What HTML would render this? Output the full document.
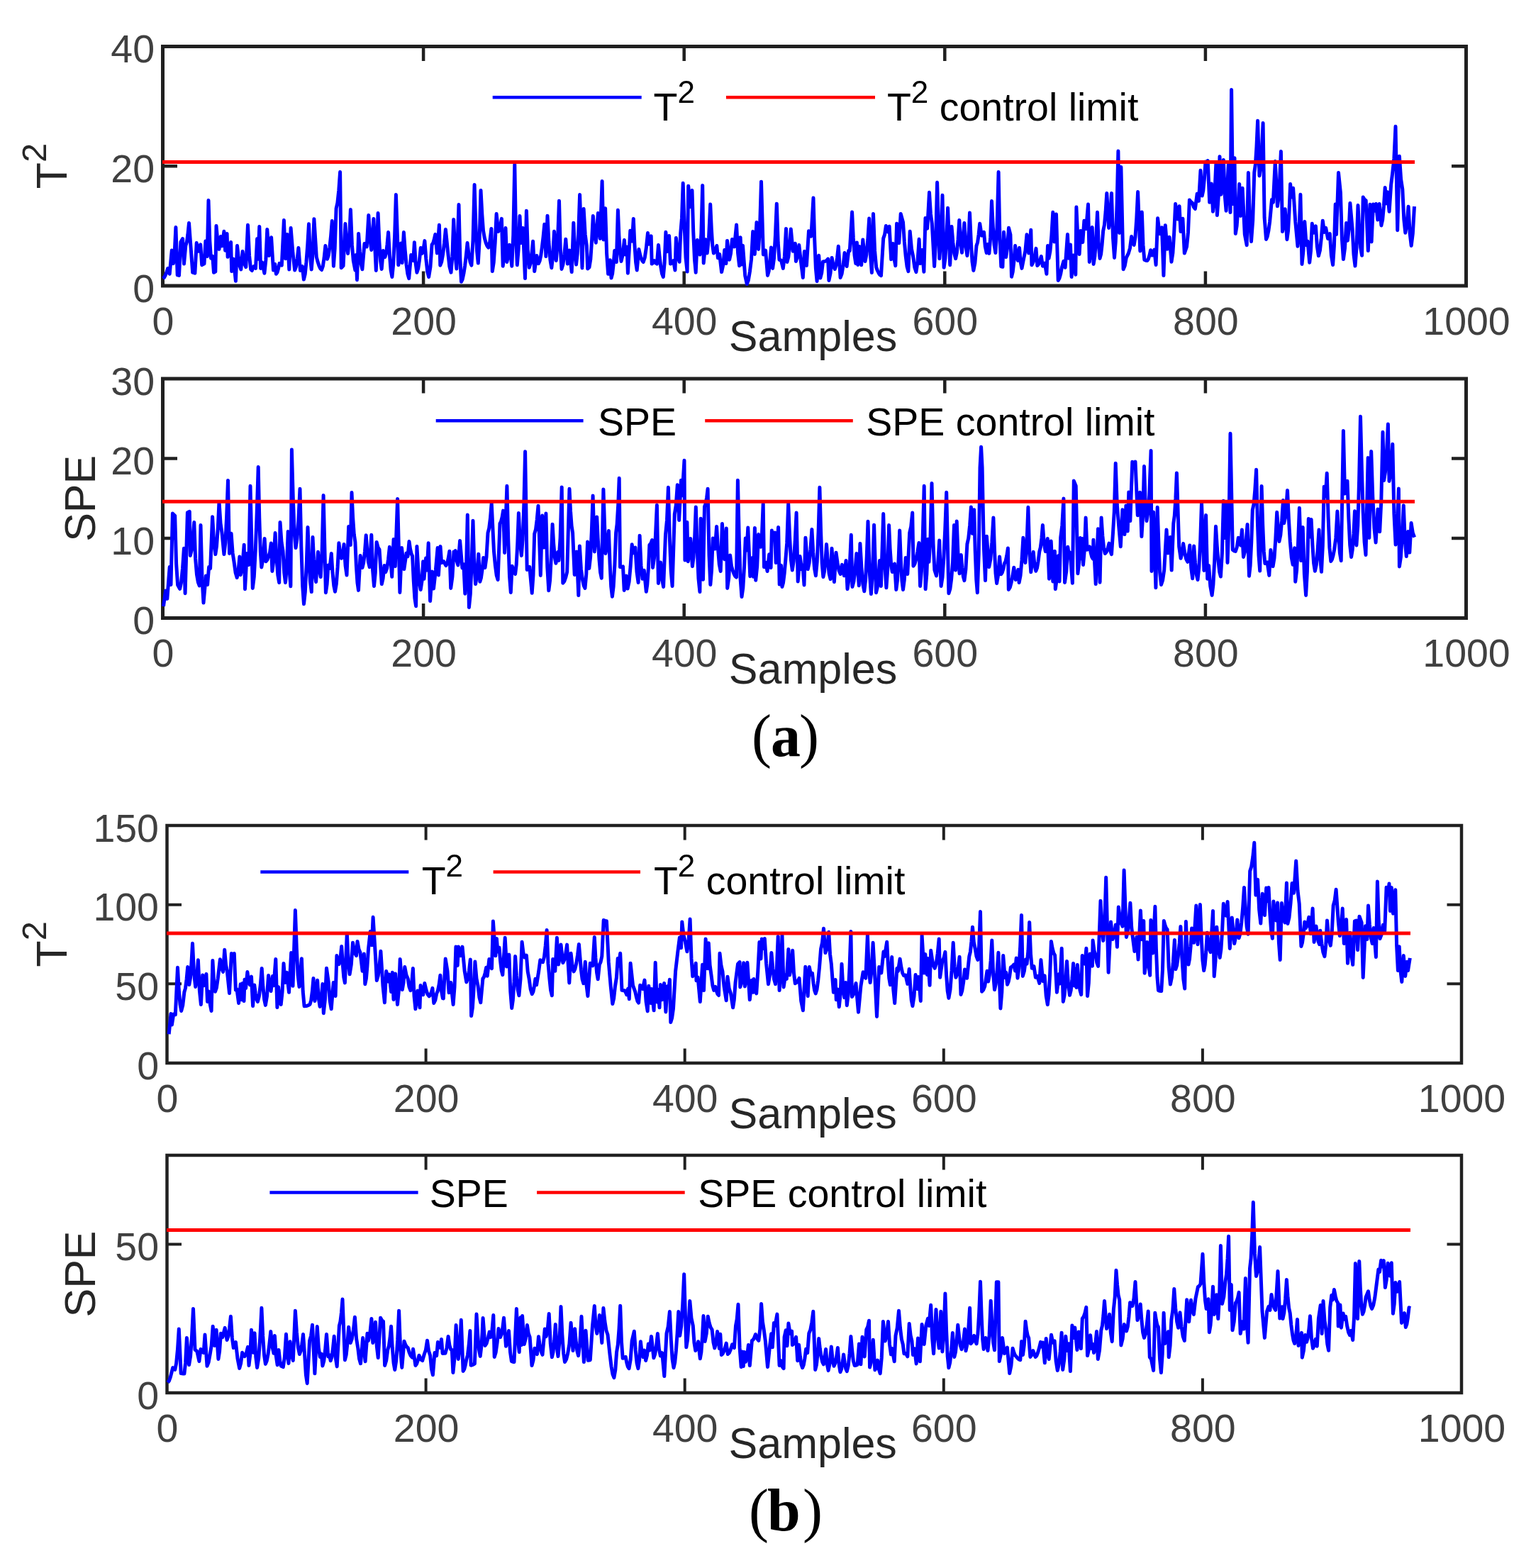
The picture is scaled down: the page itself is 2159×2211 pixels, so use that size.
<!DOCTYPE html>
<html lang="en">
<head>
<meta charset="utf-8">
<title>Monitoring charts</title>
<style>
html,body{margin:0;padding:0;background:#fff;}
body{width:2159px;height:2211px;overflow:hidden;}
svg{display:block;}
text{font-family:"Liberation Sans",Arial,Helvetica,sans-serif;}
.tk{font-size:55.5px;fill:#404040;}
.lb{font-size:61px;fill:#262626;}
.lg{font-size:55.5px;fill:#000;}
.cap{font-family:"Liberation Serif","DejaVu Serif",serif;fill:#000;}
</style>
</head>
<body>
<svg xmlns="http://www.w3.org/2000/svg" width="2159" height="2211" viewBox="0 0 2159 2211">
<rect width="2159" height="2211" fill="#fff"/>
<g id="a1">
<path d="M597.1 403V382.5M597.1 65.5V86M964.7 403V382.5M964.7 65.5V86M1332.3 403V382.5M1332.3 65.5V86M1699.9 403V382.5M1699.9 65.5V86M229.5 234.2H250M2067.5 234.2H2047" fill="none" stroke="#202020" stroke-width="4.5"/>
<rect x="229.5" y="65.5" width="1838" height="337.5" fill="none" stroke="#202020" stroke-width="5"/>
<polyline fill="none" stroke="#0000ff" stroke-width="5" stroke-linejoin="round" stroke-linecap="butt" points="229.7,392.8 231.4,391.4 233.1,388.4 234.9,384 236.6,378.5 239.2,386.3 242.3,353.1 244.4,371.6 246.2,355.9 247.9,320.5 250.2,387.8 252.5,388.4 254.9,341.3 257.6,336.6 259.5,372.1 261.8,346.6 263.4,341.6 264.9,330.4 266.5,314.4 268.9,346.6 271.7,384.2 274.9,385.2 277.2,342.6 280.5,354.2 282.8,344.9 284.7,373.7 288,371.8 289.9,339.9 292.2,361.6 294,282.5 295.8,339.1 297.5,364.2 299.8,361.5 301.5,384.2 303.8,383.1 305,318.4 307,341.2 309,351.4 311.3,333.6 313.2,346.9 315.9,326.3 317.6,353.2 320.1,329.4 321.1,362.3 323.4,355.9 325.6,341.5 326.7,382.6 329.2,365.1 332.4,396.3 334.5,346.5 336.3,363.2 338,374.8 339.8,380 342.1,354.6 343.7,365.6 345.2,373.2 346.8,376.6 349.5,317.3 351.6,360.7 353.7,380 355.3,381.5 357.9,375.6 360.5,378.4 362.6,336.8 363.9,365.3 365.8,319.4 367.6,378.4 369.7,369.9 372.9,385.2 374.9,366.2 376.8,323.4 379.4,360.5 382.6,334.7 385.5,381 387.8,372.5 389.4,386.3 391,384 392.5,378.8 394.1,371.4 397.3,374.2 400.4,310.5 402.5,364.7 405.1,330.5 407.8,380 410.1,321.5 413,357.1 415.7,381 417.4,376.1 419.2,365.1 420.9,349.4 423.5,381.5 426.3,375.6 428.4,394.1 430.2,386.7 431.9,370 433.7,346.1 435.5,315.8 437.4,360.2 439.2,380 441,358.1 442.9,308.7 446.3,362.3 448.1,369.3 450,374.9 451.8,378.8 453.6,380.5 455.4,375.2 457.1,363.4 458.9,346.5 461.5,365.3 463.2,360.2 464.9,348.8 466.6,332.4 468.3,311.6 470.4,375.2 472.2,350.2 474.1,294 475.9,286.1 477.8,268.2 479.6,242.6 481.2,377.7 484.1,374.7 486.9,315.5 488.8,344.5 490.6,357.4 492.5,338.3 494.4,295.5 496.4,345.4 498.3,367.6 500.9,381 502.1,359.4 503.5,394.7 505.6,329.4 507.4,354.5 509.1,372 510.9,379.8 514,343.6 517.2,347.9 519.8,303.5 521.8,337.3 523.8,352.4 526.9,308.4 530.3,381.5 533.1,300.5 534.8,339.8 536.5,367.2 538.2,379.4 540.3,353.6 542.9,362.6 544.5,357.2 546,345 547.6,327.6 549.4,358.9 551.1,380.8 552.9,390.5 554.7,372.6 556.6,332.3 558.4,274.5 561.8,373.7 563.6,364.3 565.5,343.1 567.1,370.5 569.4,327.6 571.2,352.7 573,372.6 574.9,386.4 576.7,392.6 579.7,359.4 582.8,367.4 584.4,341.7 586.1,371.1 587.9,384.2 589.7,378.8 591.5,366.7 593.3,349.4 595.2,357.4 597,351.9 598.9,339.6 600.8,365 602.7,382.6 604.6,390.5 606.9,376.5 609.1,345 610.7,342.8 612.2,337.7 613.8,330.5 616.4,356.9 619.4,317.3 620.8,374.2 622.7,369.4 624.6,358.6 626.5,343 628.4,323.4 631.8,357.1 633.9,375.9 636,384.2 637.9,361.2 639.7,309.5 641.8,357.5 643.9,378.9 647,288.5 648.8,363.8 650.5,397.3 652.2,393.8 653.9,385.8 655.7,374.3 657.4,359.9 659.1,342.6 661,358.3 663,369.3 664.9,374.2 667,339.2 669.1,260.4 670.8,315.5 672.6,353.9 674.3,371 676.1,339.5 678,268.5 679.8,301.9 681.5,325.1 683.3,335.5 685.1,342.2 687,346.9 688.8,349 690.8,340.8 692.9,322.4 694.3,382.6 696.2,370.1 698.2,341.9 700.1,301.6 702.7,326.4 704.3,323.6 705.8,317.4 707.4,308.4 709.2,375.2 711.1,358.7 713,321.5 714.8,369.5 716.6,362 718.5,345.2 721.8,375.2 723.8,331 725.8,231.7 727.5,330 729.3,373.7 731.1,352.4 733,304.5 734.7,342.7 737.4,321.5 740.5,392.6 742.4,297.2 744.3,352.6 746.3,377.3 748.1,371.6 749.8,358.7 751.6,340.2 753.7,382.6 756.8,360.4 759.4,371.6 761.1,368 762.8,360 764.4,348.4 766.1,333.8 767.8,316.3 769.9,361.6 772,304.2 773.9,340.8 775.9,366.3 777.8,377.7 779.6,361.9 781.5,326.3 784.3,367.4 786.4,341.5 788.5,283.2 790.2,349.8 792,379.4 793.9,372.9 795.9,358.3 797.8,337.3 800.4,372.1 803,353.1 806.2,383.6 808.8,314.2 810.6,355 812.5,373.1 814.2,357.9 815.9,323.6 817.6,274.5 821,377.9 823.1,294.4 825.2,330.5 827.3,346.6 828.7,378.9 831,376.8 832.8,365.6 834.5,340.5 836.3,304.5 838.3,330.6 840.3,342.2 843.4,300.5 846.2,336.4 849.1,255.4 851,338 853.6,293.7 855.6,357.8 857.6,386.3 860.4,366.7 862,392 863.6,386.1 865.1,372.7 866.7,353.6 869.3,369.5 871.4,296.3 872.9,332.2 874.5,357.3 876,368.4 878.2,359.2 880.4,338.4 882,359 884.1,348.3 885.4,385.2 888.8,325.2 891.4,340.1 893.3,308.4 894.9,344.6 896.6,369.8 898.2,381 900.9,351.5 903,360.5 905.1,366.7 907.2,369.5 909.3,363.2 911.4,348.9 913.5,328.4 915,344.3 918.2,332.9 919.2,372.1 921,370.7 922.9,367.6 924.6,370.7 926.4,372.1 928.5,345.5 930.2,362.9 931.9,376.6 933.6,386.2 935.3,390.5 937.1,371 938.9,327.3 940.8,354.8 943.6,332.6 945.5,372.1 947.6,370.7 949.7,367.6 952,381 953.4,335.4 955,352.3 956.5,364.1 958.1,369.3 959.7,329.2 961.5,307.4 963.2,258.3 965.2,320.5 967.1,363.8 969.1,383.1 970.7,262.2 973.3,291.7 976,268.5 977.7,326.1 979.5,366.3 981.2,384.2 983.3,338.4 985.1,352.7 987,359 988.9,329 990.7,261.4 992.2,371 995.4,337.8 997.2,356.9 999.5,335.7 1001.7,288.1 1003.3,322.5 1004.8,346.4 1006.4,357.1 1008.6,353.8 1010.8,346.5 1012.4,363.7 1014.7,358.5 1017.6,383.6 1019.7,374 1021.8,352.5 1023.9,371.6 1025.5,339.4 1028.6,366.3 1030.5,357.4 1032.5,337.5 1035.5,347.9 1038.6,317.1 1040.6,357 1042.6,374.7 1044.1,334.7 1045.8,373.1 1047.5,346.2 1050.7,388.6 1053.3,400.5 1055.4,394.9 1057.5,382.3 1059.6,365.2 1061.7,326.6 1064.3,358.4 1067,313.4 1069.6,351.4 1071.5,322.1 1073.5,256.2 1076.4,359 1079.6,353.1 1082.5,388.4 1084.2,382.3 1085.8,368.6 1087.5,348.9 1089.6,378.4 1091.5,364.3 1093.4,332.6 1095.3,287.2 1097.2,342 1099,366.3 1101.6,367.2 1104.3,378.4 1106.4,361.2 1108.5,322.4 1110,369.5 1111.8,362.3 1113.5,346.2 1115.3,323.1 1118.2,354.2 1121.4,343.4 1122.4,368.4 1124.6,361.4 1126.8,345.5 1128.9,364.4 1132.3,391.5 1134.4,354.6 1137.4,374.5 1140.5,325.7 1143.9,333.2 1147,279 1148.7,337.6 1150.4,378.4 1152.1,396.6 1154.7,360.2 1156.8,392 1158.7,384.9 1160.5,369 1163.6,368.4 1165.6,367.4 1167.6,365.1 1168.9,395.5 1171,385.6 1173.1,363.4 1175.2,374.5 1177.3,379.4 1179,374.4 1180.6,363.3 1182.3,347.3 1185.1,391.5 1187.1,386.1 1189.1,373.9 1191.1,356.4 1194.1,375.6 1196.7,353.6 1198.3,353.7 1201.6,299.1 1203.3,335.2 1205.1,360.4 1206.8,371.6 1208.4,342 1209.7,373.5 1211.8,347.6 1214.7,373.7 1216.8,338.1 1220,368.4 1221.9,359.1 1223.8,338.1 1225.7,308.1 1227.6,361 1229.4,384.5 1231.5,301.4 1233.6,353.7 1235.7,377 1237.4,381.5 1239.1,385 1240.8,387.5 1242.5,388.6 1245.7,336.1 1247.6,330.7 1249.4,318.4 1252,326.9 1254.1,319.2 1256.7,365.8 1259.3,343.6 1261,365.1 1262.8,374.7 1264.6,315.2 1267.8,342.7 1270.2,301.4 1273.5,313.5 1275.3,340.2 1277.2,361.3 1279.1,376.1 1280.9,382.6 1283.2,326.3 1285.5,350.9 1287.7,361.8 1289.8,376.9 1291.9,383.6 1294,369.3 1296.1,337.3 1297.7,371.6 1300.3,352.5 1302.9,383.3 1305,307.4 1307.7,322.2 1310.5,271.3 1312.4,301.5 1314.3,315 1317.6,375.6 1319.6,339.2 1321.6,257.3 1324.8,364.7 1326.9,337.2 1329,275.3 1331.1,377.3 1332.9,364.3 1334.8,335.1 1336.6,293.2 1339.7,373.7 1342,319.4 1343.9,342 1345.7,357.7 1347.6,364.7 1349.3,356.3 1351.1,337.5 1352.8,310.5 1354.7,342.2 1356.5,356.3 1359.9,314.4 1361.9,346.3 1363.9,360.5 1365.7,341.9 1367.5,300 1369.3,340.6 1371,368.9 1372.8,381.5 1374.9,370.8 1377,346.6 1378.6,341.7 1380.1,330.8 1381.7,315.2 1384.3,332.2 1387.5,327.3 1389.3,347.6 1391.2,356.6 1392.8,344.4 1394.9,357.4 1396.7,334.7 1398.5,283.5 1400.3,319.9 1402.1,345.3 1403.9,356.6 1406,321.5 1408.1,242.6 1409.9,334.8 1411.8,375.8 1413.9,376.3 1415.5,327.3 1418.6,362.6 1420.5,349.9 1422.5,321.3 1424.9,330.8 1426.5,390.3 1428.2,383.5 1429.9,368.3 1431.6,346.5 1433.5,361 1435.4,367.4 1437.5,349.4 1439.2,369.5 1441,378.4 1443.8,363.9 1445.9,353.7 1448,330.8 1450.7,356.9 1453.8,324.2 1454.9,373.7 1456.9,370.1 1459,362 1461,350.4 1462.8,374.5 1464.6,372.5 1466.5,368 1468.3,361.5 1470.4,375.2 1473.3,371.2 1475.9,386.3 1477.5,346.5 1479,364.2 1480.9,354.2 1482.9,331.6 1484.8,299.3 1486.9,341.1 1489.5,302.1 1492.2,395.5 1493.9,392.6 1495.7,386.2 1497.4,377 1500,368.3 1502.1,377.3 1505.5,330.5 1506.9,364.2 1509.5,344.9 1511.1,390.5 1513.7,359.9 1516.8,387.3 1517.9,292.1 1520,338 1522.1,358.4 1524,325.5 1526.8,341.6 1528.9,311.2 1531.6,322.7 1534.5,288.1 1536.3,369.5 1538.2,354.4 1540.2,320.5 1542.1,372.4 1543.9,361.1 1545.7,335.7 1547.5,299.3 1549.2,344.4 1551,364.4 1552.6,358.4 1554.1,344.9 1555.7,325.5 1557.4,317.3 1559.1,298.8 1560.8,272.4 1563.6,321.4 1565.5,306.3 1567.5,272.4 1569.5,335.4 1571.5,363.4 1573.3,340.2 1575.1,288 1576.9,213.1 1578.6,328.5 1580.9,235.6 1584.1,379.8 1586.2,374.8 1588.3,363.4 1591.4,357.1 1593.5,349.9 1595.6,333.6 1597.4,341.8 1599.2,345.4 1601,333.8 1602.8,307.8 1604.6,270.5 1607.8,354 1610.3,299.1 1612,345.7 1613.8,366.4 1615.8,367.2 1617.8,367.6 1619.4,365.3 1621,360.1 1622.6,352.7 1624.7,360 1627.8,352.2 1630.1,373.5 1632.6,307.7 1635.3,329.8 1638.5,320.9 1640.9,388.6 1643.3,317.7 1646,351.3 1649.1,334.4 1652,369.2 1653.9,356.6 1655.7,328.2 1657.6,287.5 1660.7,309.1 1663.1,290.7 1665,326.6 1667.9,308.2 1670.3,357.1 1673.5,348 1675.5,327.7 1677.4,281.9 1679.4,284.7 1681.4,286 1683.4,291.9 1685.4,294.5 1688.2,273.2 1690.5,283.4 1693,240.3 1695.2,276.1 1696.8,268.7 1698.4,251.9 1700,227.9 1701.4,232.5 1703.2,226.6 1705.7,285.3 1708.4,258.9 1710.5,298.3 1712.7,277.9 1714.8,231.9 1716.4,303.6 1718.2,278.1 1720,220.7 1721.9,274.2 1723.7,259.2 1725.4,225.5 1727.2,275.1 1729.1,297.2 1732.3,231.9 1735,299.6 1736.6,126.5 1738.6,287.7 1741,222.8 1742.3,329.5 1744.1,318.7 1745.9,294.3 1747.7,259.4 1749.4,304.4 1752.1,265.2 1755.3,330.5 1758.2,345.7 1760.4,243.5 1762.5,310.7 1764.5,340.6 1766.7,310.6 1768.8,243.1 1770.4,231.9 1772,206.6 1773.6,170.3 1776,247.9 1777.7,236.4 1779.4,210.6 1781.1,173.5 1783.1,306.7 1785.5,337.4 1787.2,333.6 1788.9,325.2 1790.6,313 1793.5,281.6 1795.4,285.3 1798.3,227.6 1801.4,290.8 1803.1,278.9 1804.7,252.1 1806.4,213.6 1808.5,326.6 1810.3,316.8 1812.2,294.7 1814.9,337.7 1816.5,325.6 1818,298.4 1819.6,259.4 1821.4,278.1 1823.6,265.2 1826.8,313 1830,347.3 1832,324.8 1833.9,274.3 1836,372.4 1837.9,354 1839.8,312.5 1842.1,345.7 1844,340 1846.7,370.3 1848.5,353.4 1850.3,315.3 1852.5,328.2 1855.4,318.8 1857.4,347.9 1859.4,360.8 1861.4,353.2 1863.3,336 1865.3,311.3 1867.5,327.4 1869.7,321.4 1872.6,336.5 1875.3,329.6 1877.4,360 1879.6,373.5 1881.4,347.2 1883.2,288 1884.5,330.6 1887.5,243.5 1890.4,271.7 1892.4,336.7 1894.4,365.6 1896.5,349.9 1898.6,314.5 1900.4,339.3 1902.2,323 1903.9,286.4 1907.1,322.6 1909,358.9 1911,375.1 1913,348.8 1915,289.6 1916.9,324.8 1918.7,349.4 1920.6,360.3 1922.2,278 1924.2,281.3 1926.2,282.8 1929.3,353.6 1932,288.3 1934.1,340.9 1936.5,288 1938.4,297.2 1940.5,287.5 1942.8,309.9 1945.2,287.5 1947.9,317.9 1949.7,309.6 1951.4,291 1953.2,264.4 1954.9,286.9 1956.5,270.8 1959.1,298.3 1961.6,261 1963.8,243.1 1965.9,223.2 1968,178.3 1970.7,324.7 1973.4,220.3 1975.6,252.6 1977.8,266.9 1979.8,309.3 1981.8,328.2 1983.9,316.8 1986.1,291.2 1988.2,329.5 1990.2,346.5 1992.3,329.5 1994.5,291.2"/>
<line x1="229" y1="228.6" x2="1995" y2="228.6" stroke="#ff0000" stroke-width="5"/>
<text class="tk" text-anchor="middle" x="230" y="471.5">0</text>
<text class="tk" text-anchor="middle" x="597.6" y="471.5">200</text>
<text class="tk" text-anchor="middle" x="965.2" y="471.5">400</text>
<text class="tk" text-anchor="middle" x="1332.8" y="471.5">600</text>
<text class="tk" text-anchor="middle" x="1700.4" y="471.5">800</text>
<text class="tk" text-anchor="middle" x="2068" y="471.5">1000</text>
<text class="tk" text-anchor="end" x="218" y="425.5">0</text>
<text class="tk" text-anchor="end" x="218" y="256.8">20</text>
<text class="tk" text-anchor="end" x="218" y="88">40</text>
<text class="lb" text-anchor="middle" x="1146.5" y="495">Samples</text>
<text class="lb" transform="translate(94 266.2) rotate(-90)" x="0" y="0">T<tspan dy="-29" font-size="49">2</tspan></text>
<line x1="694.7" y1="137.3" x2="904.7" y2="137.3" stroke="#0000ff" stroke-width="4.5"/>
<line x1="1024" y1="137.3" x2="1234" y2="137.3" stroke="#ff0000" stroke-width="4.5"/>
<text class="lg" x="921.6" y="169.8">T<tspan dy="-25" font-size="44">2</tspan></text>
<text class="lg" x="1250.9" y="169.8">T<tspan dy="-25" font-size="44">2</tspan><tspan dy="25"> control limit</tspan></text>
</g>
<g id="a2">
<path d="M597.1 871.5V851M597.1 534V554.5M964.7 871.5V851M964.7 534V554.5M1332.3 871.5V851M1332.3 534V554.5M1699.9 871.5V851M1699.9 534V554.5M229.5 759H250M2067.5 759H2047M229.5 646.5H250M2067.5 646.5H2047" fill="none" stroke="#202020" stroke-width="4.5"/>
<rect x="229.5" y="534" width="1838" height="337.5" fill="none" stroke="#202020" stroke-width="5"/>
<polyline fill="none" stroke="#0000ff" stroke-width="5" stroke-linejoin="round" stroke-linecap="butt" points="230.5,855 233.5,833 235.8,844.2 239.2,799.6 241,824.5 243.4,724.1 246.7,727.3 248.6,794.8 250.6,824.8 253.6,830.4 255.5,821.6 257.5,801.7 259.4,773.3 261.1,836.7 264.4,722.7 267.3,721.4 268.3,783.4 270.1,776.2 272,759.9 273.8,736.5 275.6,787.7 277.5,810.4 279.4,821.1 281.2,825.8 283,740.5 285,816.4 287,850.1 290.4,812 292.6,824.5 294.6,799.6 296.6,801.5 299.6,728.7 301.7,765.3 303.8,781.6 305.5,770.2 307.3,744.5 309,707.6 311,737.8 313,751.3 315.9,781.6 317.8,765.5 319.6,729.3 321.5,677.4 323.5,780.5 326.1,752.3 328.1,779.8 330,792 332.1,807.5 334.2,814.4 336,805.4 337.9,785.1 339.2,810.7 340.9,804.1 342.5,789.4 344.2,768.3 345.5,830.7 348.2,780.5 350.8,796.5 353,685.3 356.3,829.4 358.3,813.2 360.2,776.8 362.2,724.5 364.2,658.4 365.7,728.9 367.3,778 368.8,799.9 371,787.5 373.1,759.5 374.9,791.7 376.8,789.6 378.6,784.8 380.5,779 382.3,766.1 383.9,805.5 386,788.9 388.1,751.6 390,786.4 391.8,810.7 393.7,821.5 395,736.5 397,764.5 399,776.9 400.8,807.8 402.5,821.5 404.4,799.3 406.2,749.4 408,802.9 409.9,826.7 411.4,634.1 413.3,703.1 415.1,751.2 417,772.6 419,759.7 421,730.8 423,689.3 424.8,770.2 426.7,826.6 428.5,851.7 430.3,835 432.2,797.3 434,743.4 435.8,788.8 437.5,820.5 439.3,834.6 441,757.5 442.5,788.9 444.1,810.9 445.6,820.6 448.5,778.3 450.4,802.7 452.2,813.6 454.1,778.2 456.1,698.5 459.4,835.7 461.1,823.8 462.9,796.9 465,801.5 467.3,780.5 469,807.3 470.8,826 472.5,834.3 474.3,823.7 476.1,799.9 477.9,765.7 479.8,780.7 481.6,787.3 483.4,781.2 485.1,767.4 487.1,797.6 489,811 491.7,742.4 494.3,768.4 496,694.5 497.6,729.3 499.3,753.6 500.9,764.4 502.4,798.3 504,821.9 505.5,832.4 508.1,783.5 511,800.5 512.7,793.4 514.5,777.5 516.2,754.7 517.9,777.1 519.5,792.7 521.2,799.6 523.8,754.3 525.6,804.3 527.5,826.5 529.3,807.4 531.1,764.4 533,771.7 535,774.9 538.3,823.6 540.1,815.6 542,797.6 543.8,806.8 545.7,801.3 547.5,789 549.4,771.3 552.7,813.3 555.1,760.4 557.3,798.6 560.6,703.4 563.9,835.4 566.5,772.6 569.8,802.6 573.1,779.9 575,784.7 577,763.5 578.5,773.8 580.1,780.9 581.6,784.1 583.3,819.3 584.9,843.8 586.6,854.7 587.9,770.4 589.7,800.8 591.4,822.1 593.2,831.5 595,819.3 596.7,791.7 598,816.2 600.6,787.1 602.1,804.1 604.2,765.7 606.6,847.5 609.4,806.1 611.5,830.1 614.4,803.8 617.1,772.6 618.4,811 621,770.4 622.6,793.6 625.6,791.7 628.9,797.6 630.6,794.4 632.2,787.4 633.9,777.2 635.7,829.4 637.9,813.5 640,777.9 641.3,789 642.3,776.6 644.1,790.7 645.9,796.9 648.6,762.5 651.9,800.9 653.8,795.6 655.8,837.2 657.5,803 659.3,726 661.4,856.4 663.3,837.5 665.1,795.1 667,734.2 668.8,796.1 670.6,823.6 672.7,810.5 674.8,781.2 676.8,820.2 678.4,815 680.1,803.2 681.7,786.4 684,800.5 686,785.4 688,751.3 689.7,744.9 691.5,730.4 693.2,709.6 696.5,777.6 698.4,797.5 700.2,811.3 702.1,817.5 705,738.2 706.5,735.4 708.1,729.1 709.6,720.1 711.6,779.5 714.9,685.3 716.7,760.1 718.5,812.2 720.3,835.4 722.2,798.2 724.4,806 726.6,809.4 728.2,796.1 729.8,766.2 731.4,723.4 733.4,764.9 735.4,783.4 737.1,760.7 738.9,709.8 740.6,636.7 743.2,803.5 745,802.2 746.8,799.3 750.2,836.3 752,810.5 753.7,752.6 755.5,746.5 757.2,732.8 759,713.2 762.3,811.4 764.6,727.1 766.9,772 769.9,724.1 771.8,799.3 773.8,832.8 775.6,818.3 777.3,785.8 779.1,739.2 780.7,766.6 782.3,785.8 783.9,794.3 786.6,778.5 788,790.4 790.1,758.5 792.2,686.9 793.8,822.3 795.8,819.8 797.7,814.3 799.7,806.4 803,689.3 804.5,720.2 806.1,741.7 807.6,751.3 810.2,810.5 813.2,777.9 815.8,839.6 817.4,770 819.4,802.5 821.4,817 823.2,825.6 825,829.4 826.8,809.3 828.6,764.1 830.8,801.5 832.6,785.7 834.3,750.1 836.1,699.1 838.4,777.9 841.7,728.9 843.4,762.3 845,788.7 846.6,807.1 848.3,815.3 850.9,689.9 853.9,780.5 856.1,770.6 858.4,748.4 860.1,794.6 861.7,826.9 863.4,841.2 865.1,827.3 866.9,796.1 868.6,751.3 870.1,739.4 871.7,712.6 873.2,674.2 874.5,799.6 876.5,799.4 878.5,798.9 880.2,832.4 883.1,812 885,830.1 887.1,820.5 889.1,798.8 891.2,767.8 893,779.9 895.9,772 898,806.3 900.1,821.5 902.1,755.2 904,797.4 906,816.2 908.3,804.2 911.3,834.3 912.8,824.1 914.4,801.2 915.9,768.4 917.8,766.3 919.6,761.5 920.5,800.5 922.5,786.9 924.4,756.2 926.4,712.2 928.4,822.5 931.6,793 933.6,816.9 935.6,827.5 938.5,753.9 940.5,733.4 942.4,687.3 944.3,756.6 946.2,805 948.1,826.5 951.3,725 953.3,712.3 955.3,683.7 957.6,733.5 960.5,677.2 962,698.8 965,649.2 965.9,790 968.9,736.3 970.2,791.7 972,781.8 973.8,759.5 976.4,798.6 978,785.7 979.7,756.6 981.3,714.9 983.2,774.5 985,816.1 986.9,834.6 988.2,731.3 991.5,817.3 993.5,714.5 995,710.6 996.6,701.9 998.1,689.3 1000,782.9 1001.8,824.5 1003.5,804.3 1005.3,758.9 1008.3,774 1010.6,742.4 1012.5,773.8 1014.3,795.8 1016.2,805.5 1018.4,738.5 1021.7,788.7 1024.3,745.1 1025.7,829.4 1027.7,815.1 1029.6,783.1 1031.5,798.3 1033.5,805.1 1035.2,809.5 1036.8,812.6 1038.5,814 1040.4,677.2 1042.3,759.1 1044.1,816.2 1046,841.6 1047.8,828.8 1049.5,800.1 1051.3,758.9 1053,775.9 1054.8,744.1 1057.8,812.7 1061.1,786.4 1062.4,813.3 1064.4,744.4 1065.7,818.3 1067.7,798.4 1069.6,753.6 1072.7,771.3 1074.5,752.5 1076.2,710.3 1077.5,799.6 1079.7,793 1082.1,805.5 1084.7,781.8 1087.1,800.5 1088.4,748.1 1090.6,760.6 1092.6,751 1094.2,793.6 1097.6,743.4 1099.2,824.1 1101.5,797.2 1102.9,827.5 1104.5,821.8 1106.1,809 1107.7,790.7 1109.7,765.9 1111.7,710 1113.6,756.8 1115.4,789.4 1117.3,803.9 1119.2,791.4 1121.2,763.3 1123.1,723.1 1125.2,819.9 1128.1,784.5 1130.7,802.8 1132,796.9 1134,824.9 1135.9,758.2 1139.2,802.6 1141.1,793.9 1143,774.4 1144.9,746.4 1146.7,779 1148.6,801.7 1150.4,811.8 1152.2,792.6 1154.1,749.3 1155.9,687.3 1157.6,750.2 1159.2,794.1 1160.9,813.6 1162.4,806.5 1164,790.4 1165.5,767.4 1167.4,791.9 1169.2,809 1171.1,816.6 1173,773.3 1176.4,820.6 1179,779.2 1181.1,794.2 1183.1,804.7 1185.2,809.4 1187.4,796.3 1190.4,811.8 1193.1,790.4 1195,830.7 1196.8,818.9 1198.5,792.4 1200.3,754.3 1201.9,827.5 1203.9,820.2 1205.9,803.9 1207.9,780.5 1211.3,825.8 1212.9,766.5 1214.9,800 1216.8,823.3 1218.8,833.7 1220.5,818.5 1222.3,784.3 1224,735.2 1226.2,806.1 1228.4,837.6 1230.5,807.6 1232.6,740.2 1235.5,835.7 1237.2,828.7 1238.8,813 1240.5,790.4 1242.4,826.5 1245.7,724.5 1247.8,796.7 1249.9,828.8 1251.8,801.6 1253.6,740.5 1255.1,773.4 1256.7,796.3 1258.2,806.5 1261.5,795 1263.8,831.5 1265.4,818.6 1267.1,789.6 1268.7,748.1 1270.3,789.6 1271.9,818.6 1273.5,831.5 1275.3,817.6 1277.2,786.4 1279.8,809.4 1282.7,751.3 1284.7,742.6 1286.7,723.1 1288,798.2 1290,795.1 1292,788.1 1293.9,778.1 1295.9,765.4 1297.6,826.5 1299.5,804.7 1301.3,755.6 1303.2,685.3 1305.1,830.7 1306.9,809 1308.7,760.2 1310,792.3 1312,758.2 1314,681.4 1316,766.1 1317.9,803.8 1320.5,812 1322.6,796.6 1324.7,762.1 1327.1,826.5 1329,814 1330.9,785.8 1332.8,745.4 1334.7,694.3 1337.9,836.7 1339.8,830.6 1341.6,817 1343.5,793.5 1345.5,740.5 1347.5,804.1 1349.2,735 1351.2,786 1353.1,808.7 1355.3,782.5 1356.8,800.5 1358.4,813 1359.9,818.6 1361.9,802.7 1363.9,767.1 1365.7,759 1367.6,740.9 1369.4,714.9 1371.2,752.3 1373.7,718.8 1375.2,777 1376.8,817.6 1378.3,835.7 1380.2,781.4 1382,659.4 1383.6,630.2 1385.1,659.4 1387.3,769.6 1389.5,818.6 1391.4,756.2 1394.7,799.6 1396.8,788.8 1398.8,764.7 1400.9,730 1402.5,776.1 1404,808.2 1405.6,822.5 1407.6,811 1409.6,785.1 1411.8,809.7 1413.3,807.4 1414.9,802.1 1416.4,794.6 1418.1,791.3 1419.7,783.8 1421.4,773 1422.3,831.5 1424.2,828.5 1426,821.9 1427.9,812.3 1429.8,800.2 1432.2,817.5 1434,813.1 1435.8,803.2 1437.1,821.5 1439,811.7 1441,789.7 1442.9,758.2 1445.9,793.6 1447.9,769.5 1449.9,715.3 1451.8,778.6 1453.8,806.8 1457.2,778.3 1459,796.9 1460.8,805.2 1462.5,800.9 1464.1,791.3 1465.8,777.6 1467.3,771.9 1468.9,759 1470.4,740.5 1472.3,766.2 1474.3,777.6 1477.3,759.5 1479.5,816.2 1482.2,763.1 1484.8,819.9 1487.4,777.2 1488.3,830.7 1490.3,816.3 1492.3,783.8 1494,819.9 1495.7,757.9 1497.8,741 1499.9,703.1 1501.5,821.5 1503.7,806 1505.8,771.3 1507.2,781.2 1509.1,779.2 1512.4,822.3 1514.3,678.1 1517.2,685.3 1519.9,808.7 1521.7,793.3 1523.5,758.6 1524.8,787.7 1526.4,759.5 1527.5,796.5 1529.3,776 1531.1,730 1533,775.3 1534.8,774 1536.7,771 1538.2,779.5 1539.8,785.5 1541.3,788.1 1541.9,761.2 1545.2,823.6 1548.5,745.7 1551.1,821.2 1553.1,730 1554.8,755.2 1556.6,772.7 1558.3,780.5 1560.2,778.3 1562.1,773.3 1564,766.1 1565.8,776.8 1567.5,781.6 1569.5,751.3 1571.3,721.1 1573.2,653.2 1575.3,712 1577.4,738.2 1580.3,770.7 1582.9,718.8 1585.9,753.6 1587.9,712.9 1590.2,749 1591.8,693.9 1593.8,734.6 1596.8,651.2 1597.6,656.6 1601,651.2 1604.3,726.7 1607.6,694.3 1609.9,756.6 1611.7,726.1 1613.5,657.5 1615.2,710.9 1617,734.6 1618.8,723.6 1620.7,698.8 1623.1,635.4 1624,805.5 1626.6,722.1 1629.9,828.8 1632.2,715.3 1634,769.7 1635.7,807.6 1637.5,824.5 1639.6,818.1 1641.7,803.8 1645,747 1647,779.9 1650.2,757.5 1652.2,804.1 1654.8,738.2 1656.3,727.2 1657.9,702.4 1659.4,666.9 1662.7,771 1665.1,787.3 1666.8,780.9 1668.6,766.5 1670.7,779.4 1672.7,788.3 1674.8,792.3 1677.8,769.1 1679.8,801.4 1681.7,815.7 1683.7,770 1685.5,793.7 1687.2,810.2 1689,817.5 1690.8,800.7 1692.7,763 1694.5,709 1697.9,804.4 1700.6,726.6 1702.7,816.2 1704.6,797.6 1706.8,826.5 1709.1,839.4 1710.9,824.4 1712.7,790.7 1714.5,742.3 1716.2,769.6 1718,791.2 1719.7,806.3 1721.4,813 1723.4,780.2 1725.4,706.3 1727.4,758.5 1729.4,710.6 1731,793.4 1733,737.4 1735,611.3 1738.3,775.3 1740.3,776.8 1742.3,777.4 1744.3,771.5 1746.3,758.3 1749.5,768.9 1751.4,747.1 1753.5,785.4 1755.4,778.3 1757.2,762.3 1759.1,739.4 1761.5,812.2 1763.1,797.8 1764.7,765.5 1766.3,719.2 1768.1,710.4 1769.8,690.6 1771.6,662.2 1773.3,733.3 1775,782.9 1776.7,805 1779.1,685.4 1780.7,739.8 1782.3,777.7 1783.9,794.6 1787.1,792.8 1789.8,811.4 1791.9,775.6 1795.1,798.6 1797,786.8 1798.8,760.3 1800.7,722.3 1803.9,763.6 1805.8,754.6 1807.6,734.4 1809.5,705.5 1810.7,737.7 1812.3,730.5 1813.9,714.5 1815.5,691.4 1817.4,731.9 1819.3,763.9 1821.3,786.3 1823.2,796.2 1825.6,772.7 1826.7,820.2 1828.6,804.1 1830.5,768 1832.4,716.3 1834.7,790.6 1837.2,743.6 1839.4,809.9 1841.6,839.4 1843.4,806.2 1845.3,731.4 1847.2,756.9 1849.1,732.4 1850.9,768.7 1852.6,794 1854.4,805.3 1856.3,796.3 1858.1,776.1 1860,747.1 1861.8,788.1 1863.5,806.3 1865.3,769.3 1867.2,686.2 1869.3,699.9 1871.2,667.3 1873.1,729.1 1874.9,772.2 1876.8,791.4 1878.4,788.9 1880,783.3 1881.6,775.2 1883.8,758.5 1885.9,721.1 1887.7,755.7 1889.4,779.9 1891.2,790.6 1894.4,607.4 1896.5,696 1898.2,690.5 1900,678.2 1901.9,731.6 1903.7,768.8 1905.6,785.4 1907.2,775.4 1908.9,752.9 1910.5,720.7 1912.9,768.9 1914.8,740.8 1916.6,677.7 1918.5,587.2 1920.4,662.7 1922.2,722.4 1924.1,764 1926,782.5 1929.2,645.4 1930.8,758.5 1933.7,636.6 1935.8,700.5 1938,745.1 1940.1,764.9 1943,717.9 1945.7,749.7 1947.8,706.5 1950,609.3 1951.6,677.6 1953.5,665.3 1955.5,637.7 1957.4,598.1 1959,678.4 1960.6,670.3 1962.2,652.2 1963.8,626.2 1965.9,724.4 1968.1,768.1 1970.2,743.8 1972.4,689.1 1973.4,798.9 1975.4,785.6 1977.3,755.6 1979.3,712.7 1981.3,762.4 1983.3,784.5 1985.7,749.5 1987.8,779 1990.1,737.5 1992.3,751.4 1994.6,757.6"/>
<line x1="229" y1="707.2" x2="1995" y2="707.2" stroke="#ff0000" stroke-width="5"/>
<text class="tk" text-anchor="middle" x="230" y="940">0</text>
<text class="tk" text-anchor="middle" x="597.6" y="940">200</text>
<text class="tk" text-anchor="middle" x="965.2" y="940">400</text>
<text class="tk" text-anchor="middle" x="1332.8" y="940">600</text>
<text class="tk" text-anchor="middle" x="1700.4" y="940">800</text>
<text class="tk" text-anchor="middle" x="2068" y="940">1000</text>
<text class="tk" text-anchor="end" x="218" y="894">0</text>
<text class="tk" text-anchor="end" x="218" y="781.5">10</text>
<text class="tk" text-anchor="end" x="218" y="669">20</text>
<text class="tk" text-anchor="end" x="218" y="556.5">30</text>
<text class="lb" text-anchor="middle" x="1146.5" y="963.5">Samples</text>
<text class="lb" text-anchor="middle" transform="translate(134 702.8) rotate(-90)" x="0" y="0">SPE</text>
<line x1="614.7" y1="593.3" x2="822.6" y2="593.3" stroke="#0000ff" stroke-width="4.5"/>
<line x1="994.2" y1="593.3" x2="1202.8" y2="593.3" stroke="#ff0000" stroke-width="4.5"/>
<text class="lg" x="842.9" y="613.6">SPE</text>
<text class="lg" x="1221.3" y="613.6">SPE control limit</text>
</g>
<g id="b1">
<path d="M600.6 1499V1478.5M600.6 1164V1184.5M965.7 1499V1478.5M965.7 1164V1184.5M1330.8 1499V1478.5M1330.8 1164V1184.5M1695.9 1499V1478.5M1695.9 1164V1184.5M235.5 1387.3H256M2061 1387.3H2040.5M235.5 1275.7H256M2061 1275.7H2040.5" fill="none" stroke="#202020" stroke-width="4"/>
<rect x="235.5" y="1164" width="1825.5" height="335" fill="none" stroke="#202020" stroke-width="4.5"/>
<polyline fill="none" stroke="#0000ff" stroke-width="5" stroke-linejoin="round" stroke-linecap="butt" points="238.2,1458.3 241,1429.6 242.4,1445 244.7,1430.1 247.3,1430.8 250.5,1364.3 252.2,1394.8 254,1416 255.7,1425.5 257.8,1417.3 259.9,1398.9 261.5,1393.4 263.1,1381.1 264.7,1363.4 266.8,1388.5 268.4,1379.5 269.9,1359.3 271.5,1330.3 273.6,1372.6 275.7,1391.4 277.5,1379.8 279.4,1353.8 281.4,1397.1 283.4,1416.4 285.7,1375 287.2,1389.8 289,1384.8 290.9,1373.4 292.5,1412.4 294.6,1398.1 296.4,1417.1 298.1,1425.5 299.9,1354.5 301.7,1384.7 303.5,1398.2 305.4,1392.6 307.2,1380 310.4,1352.7 312.5,1365 314.6,1370.4 316.7,1339.3 318.5,1360.2 320.3,1369.5 323.5,1400.6 326.4,1344.5 328.3,1353.1 330.3,1344.5 332.4,1396.1 334,1394.9 336.6,1414.5 339.2,1387.8 340.8,1409.8 342.2,1386.5 344,1411.6 345,1381.3 346.6,1393.5 348.9,1370.6 350.6,1383.2 352.4,1388.8 354.5,1377.1 356.6,1418.5 358.7,1388.9 360.3,1400.6 361.8,1408.8 363.4,1412.4 365.3,1405.2 367.3,1388.9 369.2,1365.5 370.9,1391.3 372.7,1409.4 374.4,1417.4 376.5,1404.5 378.6,1375.5 380.4,1390.7 382.1,1397.5 384.4,1376.6 386,1389.8 388.8,1352.4 390.9,1420.6 392.6,1391.8 394.4,1408.8 396.2,1416.4 398.1,1398.5 400,1358.4 402.1,1385.6 404.4,1371.3 407.5,1399.3 410.7,1343.5 413,1390.3 416.4,1283.6 418.3,1337.3 420.1,1374.7 422,1391.4 425.4,1351.7 427.2,1398.1 429.1,1418.7 431.8,1418.5 433.6,1418.1 435.3,1417.3 437.1,1416.1 438.7,1410.4 440.4,1397.7 442,1379.4 443.9,1411.6 445.8,1402.6 447.6,1382.3 449.4,1408.1 451.1,1419.5 453,1409.7 454.9,1387.6 456.3,1428.7 458.4,1409.2 460.5,1365.3 463.3,1385.3 465.2,1411.2 467.2,1422.7 470.2,1385.5 473.1,1404.5 474.9,1347.5 478,1359.7 479.9,1351.9 481.7,1334.5 483.3,1360.1 484.8,1378 486.4,1385.9 489.3,1316.2 491.2,1356.1 493.1,1373.8 495.3,1360.1 497.5,1329.3 499.2,1338.4 500.8,1344.7 502.5,1347.5 504,1327.5 506,1338.4 508,1343.3 511.1,1369.3 513.4,1345.1 514.8,1387.7 516.4,1380 517.9,1362.8 519.5,1338 522.2,1313.5 524.3,1332.8 526.1,1293.3 529.5,1348.5 531.3,1382.5 533.2,1376.1 535,1361.8 536.9,1341.2 540,1390.5 542.4,1413.7 544.7,1369.5 547.7,1384 548.9,1373.9 551.6,1398.5 553.4,1371.3 555,1409.5 557.6,1372.9 560.5,1416.6 562.4,1396.8 564.2,1352.4 567.3,1395.6 569,1385.7 570.8,1363.4 573,1374.9 575.2,1380 577,1391.5 578.9,1396.6 580.6,1387 582.4,1365.5 584.1,1405.1 585.9,1422.7 588.9,1397 592,1420.8 593.1,1389.5 594.9,1398.6 596.7,1402.7 598.8,1386.5 600.9,1395.6 603,1402 605.1,1404.8 606.7,1403 608.3,1399.1 609.9,1393.4 611.8,1414.5 613.8,1410.4 615.7,1401.1 617.4,1397.1 619.2,1388.1 620.9,1375.2 622.6,1397.7 624.4,1407.7 625.3,1408 628.2,1352.1 631,1369.5 633.1,1399.8 635.8,1385.5 639.1,1416.6 641,1391.5 642.9,1335.1 645.2,1361.5 646.5,1335.1 649.4,1347.8 652,1335.1 655.2,1369.5 657.8,1384.9 659.6,1380 661.5,1368.9 663.3,1353.1 664.6,1432.6 666.4,1420.8 668.1,1394.2 669.9,1356.1 672,1379.9 674.1,1390.5 676,1406.6 677.8,1413.7 680.9,1380 682.5,1377.6 684.1,1372.1 685.7,1364.3 687.2,1376.2 689.9,1352.4 691.7,1361.6 693.5,1365.7 695.4,1299.1 698.8,1347.8 700.4,1323.5 701.9,1342 704,1336.1 705.6,1355.3 707.2,1368.7 708.8,1374.6 712.2,1322.3 714.5,1363 717.9,1346.1 719.8,1398.4 721.7,1421.6 723.3,1410.3 725,1384.9 726.6,1348.5 728.4,1376 730.1,1395.3 731.9,1403.8 734,1380.5 736.1,1328.2 737.9,1343.2 739.7,1349.9 742.4,1347.2 744.2,1369.9 746.1,1380 748.2,1395 750.3,1401.7 751.9,1398.4 753.4,1390.9 755,1380.2 756.6,1388.8 759.7,1369.5 761.8,1353.8 763.6,1355.8 765.5,1356.7 767.4,1349.7 769.2,1334 771.1,1311.4 773,1358.9 774.9,1380 776.6,1396.5 778.4,1403.8 779.7,1352.4 782.8,1369.3 785.4,1322.3 787.5,1359.9 789.2,1351.3 791,1331.9 793.8,1357.6 795.7,1353.7 797.7,1344.8 799.6,1332.1 802.8,1385.9 805.1,1344.3 807.1,1362 809.1,1369.9 810.9,1366.3 812.8,1358.1 814.6,1346.3 816.4,1331.4 819.4,1367.2 821.1,1380.7 822.9,1386.7 825.3,1356.3 827.1,1389.7 828.9,1404.5 832.3,1358.2 834,1360.7 835.8,1361.8 838.3,1321.4 839.9,1350.9 841.6,1371.5 843.2,1380.7 845.3,1360.3 847,1356.7 848.8,1348.5 851.2,1297.5 853.3,1298.4 855.4,1298.8 858.3,1356.9 861.2,1390.5 863.8,1415.6 865.6,1407.9 867.5,1390.5 869.4,1378.5 871.2,1351.4 872.4,1362 874.7,1344.3 877,1396.4 879.1,1396.7 881.2,1396.8 883.8,1402.7 885.6,1394.4 887.3,1408.7 889.1,1358.2 892.5,1389.3 895.9,1398.9 897.5,1406.4 899,1411.7 900.6,1414 902.7,1389.2 904.5,1392.9 906.2,1394.5 909,1382.1 911.1,1412.4 913.2,1425.9 914.8,1390.2 917.9,1414.5 918.8,1394.4 922.1,1424.8 924.2,1357.3 926.3,1412.9 927.9,1395.5 930,1420.8 931.4,1388.4 933.7,1409.8 936.6,1386.5 938.9,1426.9 941.1,1390.7 942.6,1399.3 944.4,1381.3 945.8,1441.6 947.6,1435.6 949.5,1422.1 952.6,1369.5 955.8,1342.2 958.4,1321.9 960.5,1336.6 961.8,1299.9 964,1319 966.3,1327.5 968.9,1341.8 971,1327.7 973.1,1296 975,1351.9 976.8,1376.7 979,1371 981.2,1358.2 982,1382.8 984.1,1378.1 987.3,1412.6 990.6,1360.3 992.5,1396.6 995.1,1324 997.8,1365.7 999.3,1329.8 1001.1,1360.9 1003,1374.8 1004.9,1389.8 1006.7,1396.4 1008.8,1391.3 1010.4,1397.4 1011.9,1401.6 1013.5,1403.5 1015,1344.3 1017,1361.7 1018.9,1369.5 1021,1390.5 1024.2,1410.8 1026,1377.3 1028.2,1393.8 1030.5,1401.1 1033.6,1420.8 1035.3,1409.9 1037.1,1385.3 1040.5,1359.2 1043.1,1356.6 1043.8,1391.9 1045.4,1386.6 1047.1,1374.7 1048.7,1357.7 1050.4,1390.9 1052.2,1380.6 1053.9,1357.3 1057.3,1409.8 1060.2,1382.3 1062,1399.3 1063,1380.5 1064.8,1394.6 1066.7,1400.9 1068.8,1369.5 1070.9,1328.6 1073,1352 1074.3,1324 1075.3,1337.8 1078.3,1323.5 1080.6,1359 1083.5,1387.7 1085.7,1374.1 1087.9,1343.5 1089.8,1365.5 1091.6,1380.9 1093.5,1387.7 1095.3,1367 1097.2,1320.4 1099.1,1396.6 1101,1372.7 1103,1318.8 1105.1,1391.9 1107.7,1374.5 1109.3,1380.4 1111.9,1338.4 1113.5,1375.1 1115.6,1364.4 1117.7,1340.3 1119.5,1372.4 1121.3,1386.7 1123.2,1385.6 1125.2,1383 1127.1,1379.4 1129.7,1411.6 1132.4,1424.8 1135.8,1363.2 1139.2,1404.5 1141.3,1363.4 1143.4,1374.1 1145.5,1372.4 1147.1,1386.6 1148.6,1396.5 1150.2,1400.9 1152,1395.2 1153.7,1382.5 1155.5,1364.3 1157.6,1338 1159.5,1329.2 1161.5,1309.3 1163.9,1343.6 1165.5,1339.1 1167.2,1328.9 1168.8,1314.3 1170.5,1345.2 1172.3,1359 1175.4,1399.3 1178.1,1381.5 1179.3,1409.8 1181.2,1394.9 1183.3,1419.8 1185.2,1401.1 1187,1359.2 1188.8,1392 1190.7,1406.6 1192.6,1385.5 1194.3,1417.7 1196.2,1401.6 1198,1365.4 1199.9,1313.5 1201.4,1405.6 1203.3,1402.6 1205.1,1396 1207,1386.5 1209.1,1411.6 1210.5,1427.3 1213.9,1390.5 1217.1,1370.8 1218.9,1376.7 1220.8,1379.3 1223.4,1318.3 1225.2,1364.9 1227.1,1385.6 1229.1,1368.3 1231.1,1329.3 1233.9,1380 1236.5,1433.4 1239.7,1363.4 1242.8,1372 1246,1341.9 1247.5,1348.5 1250.7,1328.2 1252.3,1358.4 1253.8,1379.4 1255.4,1388.8 1257.7,1349.6 1259.7,1394.5 1261.7,1414.5 1264.9,1365.5 1266.4,1369.5 1269.1,1352.1 1270.9,1363.8 1272.7,1372 1274.5,1375.6 1277,1375 1279.8,1387.4 1282.2,1366.4 1283.8,1392.3 1285.3,1410.5 1286.9,1418.5 1289,1405 1291.1,1374.5 1293.8,1394.5 1295.3,1377.6 1298.3,1411.4 1300.1,1318.8 1303.2,1372 1304.8,1345.4 1307.4,1374.4 1308.5,1351.4 1311.1,1389.3 1312.7,1340.3 1314.5,1352.8 1316.4,1361.4 1318.2,1365.3 1320.2,1358.9 1322.2,1344.6 1324.2,1324 1325.6,1378.3 1328.9,1354.8 1330.9,1351 1332.9,1342.4 1334.6,1374.8 1336.2,1397.4 1337.9,1407.4 1340,1395.3 1342.1,1368.2 1344.2,1329.3 1346.1,1363.2 1347.9,1378.3 1349.6,1373.8 1351.4,1363.7 1353.1,1349.3 1355,1402.4 1356.8,1396.9 1358.7,1384.7 1360.5,1367.1 1363.6,1379.3 1366.8,1348.5 1368.4,1342.1 1369.9,1327.8 1371.5,1307.2 1373.3,1328.5 1375.2,1338 1377,1348.7 1378.8,1353.4 1380.7,1332.5 1382.5,1285.5 1384.6,1398.2 1386.7,1395.8 1388.8,1390.5 1392,1369.2 1393.6,1384 1395.3,1375.1 1397.1,1354.9 1398.8,1326.1 1400.7,1374.2 1402.5,1395.6 1404.3,1387.5 1406.1,1369.3 1407.9,1343.3 1410.9,1422 1412.8,1399.1 1414.7,1347.5 1417.2,1378.6 1418.7,1371.1 1420.5,1388.2 1422.1,1384.4 1423.8,1376 1425.4,1363.9 1427.5,1362.8 1429.6,1360.2 1431.6,1368.9 1433.2,1351.1 1435,1379.2 1436.8,1365.5 1438.7,1334.6 1440.5,1290.4 1442.3,1376.4 1444.4,1369.2 1446.5,1353 1448.1,1359.1 1449.9,1341 1451.7,1300.4 1453.5,1345.3 1455.3,1365.3 1458,1362.6 1460.4,1378.3 1462.8,1376.5 1465.8,1386.4 1467.9,1353.6 1470.7,1383.4 1473.1,1375.9 1475.2,1404.1 1477.3,1416.6 1479,1402.8 1480.7,1371.8 1482.4,1327.4 1484.1,1337.2 1485.9,1344 1487.6,1347 1490.4,1399.3 1493.6,1373.5 1494.8,1387 1497.2,1337.3 1499.3,1412.4 1501,1403.6 1502.8,1383.8 1504.5,1355.4 1506.5,1388.6 1508.5,1403.3 1510.2,1396.4 1511.9,1380.8 1513.6,1358.4 1514.8,1390 1516.6,1366.2 1518.1,1392.5 1519.3,1360.5 1521.1,1381.4 1522.9,1396 1524.7,1402.5 1526.2,1347.5 1528.1,1355.6 1529.9,1359.2 1531.9,1337.3 1533.5,1404.5 1535.3,1386.2 1537.1,1345.1 1540.4,1362.3 1541.1,1326.1 1543,1340.6 1545,1347 1546.8,1357.6 1548.6,1362.3 1552,1270.2 1553.9,1309.1 1555.8,1326.4 1557.8,1298.9 1559.7,1237.2 1563.1,1371.3 1566.5,1300.1 1569.1,1324.4 1571.2,1318.1 1573.3,1304 1575.4,1335.3 1577.3,1279 1579.2,1292.5 1581.1,1301.9 1583,1306.1 1585.1,1227.1 1588.4,1321.5 1590.2,1314 1592.1,1297.3 1593.9,1273.2 1595.7,1307.6 1597.5,1322.9 1599.9,1341.4 1602.9,1321.3 1605.1,1353 1608.4,1284.1 1610.4,1324.8 1612.8,1298.6 1614.1,1372.3 1615.9,1358.8 1617.7,1328.6 1619.7,1360.9 1621.7,1375.2 1622.9,1297.4 1625.7,1344.1 1628.9,1278.3 1630.4,1337.2 1632,1378.3 1633.5,1396.6 1635.6,1397.3 1637.7,1397.6 1639.5,1367.1 1641.3,1298.5 1642.9,1304.5 1644.5,1308.7 1646.1,1310.6 1648.2,1364.1 1650.4,1387.9 1652.4,1378.2 1654.4,1356.5 1656.4,1325.4 1657.9,1366.7 1659.7,1361 1661.4,1348.2 1663.2,1329.8 1664.9,1306.5 1666.8,1350 1668.8,1380.4 1670.7,1393.9 1672.4,1299.5 1674.2,1341.4 1676,1360.1 1677.5,1352.2 1679.1,1334.5 1680.6,1309.1 1683.6,1329.3 1686.8,1277.1 1689,1331.7 1692.4,1275.6 1694.2,1321.9 1695.9,1354.2 1697.7,1368.6 1699.2,1360.4 1700.8,1341.8 1702.3,1315.2 1703.9,1328.8 1705.5,1338.4 1707.1,1342.6 1710.5,1284.4 1712.2,1376.8 1714,1355.4 1715.8,1307.3 1718,1337.1 1720.2,1350.4 1721.9,1338.6 1723.6,1312.2 1725.3,1274.3 1727.1,1286.1 1728.9,1291.3 1731.1,1271.4 1734.3,1337.4 1737.3,1294 1740.7,1330.5 1742.8,1320.2 1744.8,1297.1 1747.2,1322.7 1749,1315.9 1750.8,1300.8 1752.7,1279 1754.5,1251.4 1756.4,1284.2 1758.2,1307 1760.1,1317.2 1762.7,1228.3 1764.7,1222.1 1766.8,1208.2 1768.8,1188.3 1770.9,1262.3 1773.6,1240.3 1775.7,1283.1 1777.8,1302.1 1780.2,1260.2 1783.5,1290.6 1785.7,1252.1 1787.1,1270.7 1789,1251.4 1790.8,1287.2 1792.6,1312.2 1794.4,1323.3 1795.9,1271.1 1797.8,1289.7 1799.6,1297.9 1801.6,1273.1 1803.4,1328.8 1805.2,1353.5 1807.4,1273.5 1808.9,1287.1 1810.5,1296.7 1812,1300.9 1814.4,1245.1 1815.9,1302.4 1818,1293.6 1820,1273.8 1822.1,1245.4 1824.6,1259.2 1827.7,1213.9 1830,1255.6 1832.2,1274.2 1834.9,1334.5 1836.5,1329.2 1838.2,1317.2 1839.8,1300.1 1841.2,1308.8 1842.7,1306.4 1844.3,1301 1845.8,1293.2 1848.5,1316.6 1851.1,1281.1 1853.1,1328.5 1856,1306.1 1857.5,1318.9 1859.1,1327.7 1860.6,1331.7 1861.8,1312.2 1863.8,1330.3 1865.9,1343 1867.9,1348.6 1869.7,1333 1871.5,1298 1873.1,1315.6 1874.7,1327.8 1876.3,1333.3 1878.2,1315.8 1880.2,1276.6 1882.2,1269.7 1884.1,1254.2 1887.4,1300.8 1889.3,1319.6 1891.2,1307.8 1893.2,1281.1 1895.3,1330.5 1898.6,1296.5 1900.5,1358.3 1903.8,1315.2 1905.8,1346.4 1907.7,1360.3 1910.4,1298.9 1912.8,1298 1914.6,1339.6 1917,1292.2 1920.1,1300.8 1922.2,1378.5 1925.5,1305.8 1927.9,1324.5 1929.5,1277.1 1931.4,1303.7 1933.3,1322.3 1935.2,1330.5 1937.2,1308.5 1940.4,1349.5 1942.4,1243.1 1944.2,1298.8 1946,1323.6 1948.2,1317.7 1950.3,1304.3 1952.7,1312.9 1955.1,1251.2 1957.3,1261.1 1959,1246.1 1960.5,1284.6 1962.3,1251.4 1964.5,1288.2 1967.8,1254.8 1969.6,1333.6 1971.4,1368.6 1973.2,1334.7 1975,1369.2 1976.8,1384.5 1979.3,1347.6 1981.7,1376.4 1984.1,1356.2 1985.5,1368.6 1988.3,1350.9"/>
<line x1="235" y1="1315.9" x2="1989" y2="1315.9" stroke="#ff0000" stroke-width="5"/>
<text class="tk" text-anchor="middle" x="236" y="1567.5">0</text>
<text class="tk" text-anchor="middle" x="601.1" y="1567.5">200</text>
<text class="tk" text-anchor="middle" x="966.2" y="1567.5">400</text>
<text class="tk" text-anchor="middle" x="1331.3" y="1567.5">600</text>
<text class="tk" text-anchor="middle" x="1696.4" y="1567.5">800</text>
<text class="tk" text-anchor="middle" x="2061.5" y="1567.5">1000</text>
<text class="tk" text-anchor="end" x="224" y="1521.5">0</text>
<text class="tk" text-anchor="end" x="224" y="1409.8">50</text>
<text class="tk" text-anchor="end" x="224" y="1298.2">100</text>
<text class="tk" text-anchor="end" x="224" y="1186.5">150</text>
<text class="lb" text-anchor="middle" x="1146.2" y="1591">Samples</text>
<text class="lb" transform="translate(94 1363.5) rotate(-90)" x="0" y="0">T<tspan dy="-29" font-size="49">2</tspan></text>
<line x1="367.3" y1="1229.4" x2="576.3" y2="1229.4" stroke="#0000ff" stroke-width="4.5"/>
<line x1="695.6" y1="1229.4" x2="903" y2="1229.4" stroke="#ff0000" stroke-width="4.5"/>
<text class="lg" x="594.7" y="1260.9">T<tspan dy="-25" font-size="44">2</tspan></text>
<text class="lg" x="921.9" y="1260.9">T<tspan dy="-25" font-size="44">2</tspan><tspan dy="25"> control limit</tspan></text>
</g>
<g id="b2">
<path d="M600.6 1964V1943.5M600.6 1629V1649.5M965.7 1964V1943.5M965.7 1629V1649.5M1330.8 1964V1943.5M1330.8 1629V1649.5M1695.9 1964V1943.5M1695.9 1629V1649.5M235.5 1754.6H256M2061 1754.6H2040.5" fill="none" stroke="#202020" stroke-width="4"/>
<rect x="235.5" y="1629" width="1825.5" height="335" fill="none" stroke="#202020" stroke-width="4.5"/>
<polyline fill="none" stroke="#0000ff" stroke-width="5" stroke-linejoin="round" stroke-linecap="butt" points="236.5,1949.4 238.4,1947.1 240.3,1942 243.7,1928.6 246.8,1931.3 248.6,1922.5 250.5,1902.6 252.3,1874.1 255.2,1936.6 256.8,1936.8 258.3,1937 259.9,1937.1 261.6,1921.5 263.4,1886.5 266.6,1924.5 268.6,1912.3 270.5,1884.8 272.5,1845.4 275,1903.2 277.8,1905.3 280.9,1919.5 283,1902.5 285.1,1905.9 287.2,1907.4 289,1882.1 292,1926.3 294.1,1921.1 296.2,1909.5 298.2,1897.4 300.2,1870.3 302.7,1897.5 305.1,1875.2 307.9,1916.4 309.6,1905.3 311.4,1880.2 313.8,1885.6 317.2,1872.4 320.1,1889.5 321.9,1884.4 323.6,1872.8 325.4,1856.3 327.4,1887 329.3,1900.6 332.4,1892.6 335,1915.8 337.7,1929.4 339.6,1922.6 341.6,1907.3 345,1912.6 347.2,1908.5 349.5,1899.4 351,1925.5 352.8,1910 354.5,1875.2 357.3,1907.2 359,1879.7 360.8,1913.4 362.6,1928.4 364.7,1915.4 366.8,1886.2 368.9,1844.3 370.7,1883.7 372.6,1911.2 374.4,1923.4 376.2,1919.1 378.1,1909.3 379.9,1895.3 381.8,1877.6 383.9,1898.8 386,1908.2 387.4,1883.6 389.3,1912.1 391.2,1924.8 393,1903.4 394.8,1919.3 396.5,1926.3 399.3,1927.6 401.4,1913.3 403.5,1881.3 405.2,1909.7 407,1922.4 409.1,1891.8 411.2,1910.3 413.3,1918.5 416.4,1848.2 418.4,1878.7 420.4,1900 422.4,1909.5 424.1,1905.2 425.8,1895.4 427.5,1881.5 429.7,1911.6 431.4,1938.7 433.2,1950.7 436.6,1890.5 438.6,1883.6 440.5,1868.2 443.9,1936.8 447.3,1870.6 449.3,1900.3 451.3,1913.5 453.2,1909.1 454.9,1925.9 456.8,1919 458.6,1903.6 460.5,1881.5 462.8,1912.9 464.5,1910.7 466.2,1918.7 467.9,1913.4 469.5,1901.4 471.2,1884.2 473.2,1913.8 475.2,1926.9 478.4,1869.5 479.9,1863.7 481.5,1850.7 483,1832.1 486.4,1917.7 488.2,1910.5 489.9,1894.4 491.7,1871.3 494.3,1893.5 496.3,1887.9 498.4,1875.3 500.4,1857.3 502.6,1887.6 504.8,1901.1 506.6,1916.1 508.5,1922.7 511.7,1886.5 515.1,1919.8 518,1880.2 519.5,1890.5 521.7,1880.9 523.9,1859.4 525.8,1893.5 527.6,1884.5 529.5,1864.3 531.4,1899 533.2,1914.5 536.6,1858.2 538.5,1861.7 540.5,1863.2 542.6,1925.5 544.7,1918.6 546.8,1903.2 548.4,1898.1 550,1886.7 551.6,1870.3 553.3,1900.8 555.1,1922 556.8,1931.5 558.7,1918.6 560.7,1889.7 562.6,1848.2 564.7,1903.7 566.8,1928.4 570,1891.3 571.7,1895.9 573.5,1899.1 575.2,1900.5 577.2,1907.2 579.3,1911.9 581.3,1914 582.6,1902.3 585.9,1925.5 587.6,1923.3 589.3,1918.3 591,1911.2 592.6,1914.8 594.1,1917.4 595.7,1918.5 598.3,1909.5 600.4,1903.6 602.5,1890.2 604.6,1905 606.7,1911.6 608.5,1930.4 610.4,1938.7 613,1907.6 615.7,1911.6 617.4,1892.6 620.6,1900.3 622.5,1888.4 624.1,1908.4 626,1908.3 627.9,1908.2 630,1900.9 632.1,1884.4 634,1897.3 635.8,1903 637.3,1903.4 638.9,1935.5 641,1914.9 643.1,1868.5 646.3,1916.4 648.3,1899.4 650.3,1861.3 653.1,1933.4 654.7,1930.8 656.2,1925.1 657.8,1916.8 659.5,1910.6 661.2,1896.6 662.9,1876.6 664.1,1925.2 665.9,1924.8 667.6,1924 669.4,1922.9 672,1853.1 673.7,1882.6 675.5,1903.2 677.2,1912.4 679.2,1895.8 681.1,1858.4 684.1,1897.5 686.2,1894.1 688.3,1886.3 690.2,1878.1 692,1885.6 693.9,1876 695.8,1854.5 697.2,1913.5 699.1,1907.3 701.1,1893.4 703,1873.4 705.6,1885.6 707.2,1881.4 708.9,1871.8 710.5,1858.2 713.5,1898.2 715.5,1891.6 717.5,1876.6 719.5,1906.3 721.4,1919.5 723.2,1920.3 725,1920.6 728.4,1845.6 730.3,1887.8 732.2,1906.6 734,1857.7 735.5,1896.4 736.6,1855.6 739.2,1895.6 741.3,1887.3 743.4,1868.5 745.2,1880.1 747.1,1885.3 750,1925.5 752,1918 753.9,1901.2 755.6,1906.9 757.4,1909.5 759.5,1884.7 761.3,1897.5 763.2,1906.3 765,1910.3 768.3,1874.1 770.2,1884.6 772.2,1874.7 774.2,1852.4 776.3,1894.8 778.4,1913.7 780,1906.6 781.7,1890.6 783.3,1867.6 785.1,1898.7 787,1912.6 789,1891 791,1842.4 792.8,1881.3 794.7,1908.5 796.5,1920.6 798.6,1916.8 800.7,1908.4 802.9,1895.1 805.1,1865.3 808,1904.5 810.7,1873.7 812.3,1892.6 814,1905.7 815.6,1911.6 817.8,1894.6 820,1856.3 823.4,1920.6 826,1876.2 829.2,1918.2 832.3,1917.7 835.5,1869.5 838.3,1841.4 840,1868.4 841.8,1880.4 843.6,1872.4 845.5,1854.5 848.8,1893.5 850.9,1844.5 852.9,1863.2 855,1876.3 857,1882.1 860.2,1911.6 862.1,1927.1 864,1937.9 865.9,1942.7 867.8,1931.5 869.6,1906.3 871.3,1896.2 873,1873.6 874.7,1841.2 876.5,1892.5 878.2,1915.3 880.2,1914.7 882.2,1913.3 883.8,1921.5 885.4,1927.2 887,1929.7 889.1,1917.6 891.2,1890.5 894.3,1877.3 896.2,1903.4 898,1921.6 899.9,1929.7 901.6,1918 903.4,1891.8 905.1,1906.8 906.9,1913.5 908.5,1903.9 910.6,1918.5 912.5,1911.2 914.3,1894.9 916.1,1904 918.5,1884.4 921.9,1914.7 923.7,1909.4 925.6,1897.5 927.4,1880.5 929.4,1902.2 931.4,1911.9 933.7,1907.6 936.8,1940.6 940,1880 942.2,1870.6 944.4,1849.6 946.3,1889 948.1,1916.5 950,1928.7 951.7,1921.2 953.4,1904.4 955.1,1880.2 956.8,1849.6 958.7,1883.5 960.7,1870.1 962.7,1839.9 964.7,1796.7 967.8,1899.8 969.5,1889.7 971.1,1867 972.8,1834.5 975,1858.7 977.3,1869.5 979,1893.7 980.8,1904.5 982.7,1900.6 984.6,1891.8 987.3,1915.8 988.9,1906.5 990.4,1885.6 992,1855.6 994.1,1891.4 996.2,1880.6 998.3,1856.3 1000.2,1865.5 1002.2,1871.9 1004.1,1874.8 1006,1892.9 1007.8,1900.9 1009.7,1893.7 1011.6,1877.6 1014.4,1901.4 1015.8,1881.3 1017.4,1910.5 1019.1,1908.9 1020.8,1905.5 1022.5,1900.4 1024.2,1894.1 1026.3,1909.5 1028.4,1907.4 1030.5,1902.6 1032.6,1895.8 1035.4,1900.6 1037.5,1869.5 1039.2,1860.2 1041,1839.3 1043.1,1900.4 1045.2,1927.6 1047,1906 1048.3,1926.6 1049.9,1906.5 1051.5,1920.3 1053.5,1913 1055.4,1896.5 1057.3,1925.5 1060.4,1890.5 1062.1,1889.1 1063.8,1886 1065.5,1881.5 1067.7,1887.6 1069.9,1890.3 1071.8,1874.3 1073.6,1838.4 1075.4,1863.6 1077.2,1874.8 1079.3,1890.5 1082.5,1927.6 1085.8,1895.8 1087.7,1880.8 1089.3,1899.8 1091.4,1865.5 1093,1869.5 1095.9,1853.1 1099.1,1925.5 1100.5,1918.1 1102,1923.9 1103.6,1927.9 1105.1,1929.7 1106.1,1885.3 1108.2,1875.8 1110,1897.7 1111.9,1866.1 1114.2,1880.4 1116.6,1877.1 1117.4,1896.6 1119.1,1894.9 1120.9,1890.9 1122.6,1885.3 1124.7,1918.7 1126.6,1896.2 1128.3,1912.4 1129.9,1923.7 1131.6,1928.7 1133.3,1924.6 1134.9,1915.4 1136.6,1902.3 1138.7,1907.7 1140.8,1880 1142.8,1875.3 1144.8,1864.6 1146.8,1849.3 1149.7,1931.5 1151.4,1924.7 1153,1909.4 1154.7,1887.4 1156.3,1901.5 1158,1912.6 1159.7,1920.4 1161.3,1923.8 1164.6,1902.5 1166.3,1923.3 1168.1,1932.6 1170.2,1922.3 1172.3,1899.1 1174.2,1917.9 1176,1926.3 1177.8,1922.3 1179.6,1913.3 1181.4,1900.4 1183.2,1924.1 1184.9,1934.7 1186.5,1930.9 1188,1922.3 1189.6,1909.9 1191.2,1921.7 1192.7,1929.9 1194.3,1933.6 1196.2,1926 1198,1908.9 1199.9,1884.4 1201.7,1904.9 1203.4,1919.2 1205.2,1925.5 1207.2,1925.2 1209.1,1924.5 1211.5,1894.9 1213.9,1923.8 1216,1885.3 1219.2,1912.9 1221.8,1874.8 1223.7,1870.9 1225.5,1862.2 1226.5,1928 1228.1,1922 1229.7,1908.5 1231.3,1889.2 1233.9,1931.8 1235.8,1927.6 1237.6,1918.1 1239.4,1931 1241.2,1936.8 1243.3,1914.2 1245.4,1863.4 1248.3,1890.9 1250.4,1882.4 1252.5,1863.4 1254.5,1895.5 1256.5,1909.8 1258,1901.5 1261.2,1919.8 1263,1883.2 1265.2,1872.4 1267.5,1848.2 1269.4,1871.9 1271.4,1888.4 1273.3,1895.8 1274.9,1908.7 1277.5,1908.6 1279.8,1912.9 1282.2,1866.4 1284.1,1883.1 1285.9,1890.5 1287.5,1910.5 1289.6,1901.8 1292.2,1922.9 1294.5,1887.1 1297.4,1919.8 1300.1,1867.4 1303.2,1895.6 1305.8,1869.5 1308.5,1859.2 1310,1869.5 1312.7,1840.3 1314.7,1887.6 1316.6,1908.7 1320,1846.4 1322.1,1884.1 1324.2,1900.9 1326.8,1849.3 1328.9,1905.9 1330.9,1880.7 1332.9,1824 1334.6,1876.1 1336.2,1912.5 1337.9,1928.7 1339.7,1921.1 1341.6,1904 1343.4,1879.4 1345.8,1913.5 1347.5,1906.5 1349.1,1890.8 1350.8,1868.2 1352.6,1885.4 1354.3,1897.4 1356.1,1902.7 1358.3,1893.9 1360.5,1874.1 1362,1904.8 1363.9,1895.5 1365.7,1874.4 1367.6,1844.3 1368.9,1894.8 1370.5,1893 1372,1889.1 1373.6,1883.4 1375.3,1891.3 1377.1,1894.8 1378.9,1881.3 1380.7,1850.8 1382.5,1807.2 1384.1,1854.6 1385.6,1887.7 1387.2,1902.4 1389.9,1886.5 1393,1904.5 1395.1,1882.9 1397.2,1834.2 1399,1868.9 1400.7,1893 1402.5,1903.8 1405.3,1807.7 1407.9,1807.7 1409.3,1919.6 1411.4,1909.4 1413.5,1886.4 1416.5,1908.6 1418.5,1906 1420.4,1900.1 1423.7,1936.6 1425.9,1925.7 1428.1,1901.3 1429.8,1907 1431.4,1911 1433.1,1912.8 1435,1915.2 1436.9,1916.9 1438.8,1917.6 1440.6,1891.6 1442.5,1910.5 1444.3,1895.9 1446.1,1863.2 1447.6,1875 1449.2,1883.2 1450.7,1886.8 1452.9,1913.4 1454.8,1910.7 1456.8,1904.6 1460.1,1913.4 1461.8,1911.7 1463.4,1907.8 1465.1,1902.3 1467.5,1892.4 1468.4,1898.9 1470.6,1893 1473.3,1921.8 1475.2,1887.5 1477.2,1907.6 1479.2,1916.5 1482.5,1882.3 1484.7,1893.1 1487.1,1890.8 1489.2,1919.7 1491.3,1932.5 1493.2,1924.3 1495.2,1905.7 1497.1,1879.2 1498.7,1931.4 1500.8,1916.9 1502.8,1884.2 1504.8,1904.4 1507,1894.7 1509.4,1933.6 1511.9,1869.1 1514.2,1886.5 1515.8,1872 1518.9,1903.5 1521.3,1878.1 1524.4,1901.6 1526.3,1859.3 1528.1,1856.8 1530,1851.3 1531.8,1843.4 1533.5,1911.6 1535.5,1902.7 1537.6,1882.7 1539.5,1901.6 1541,1895.5 1542.5,1907.5 1544.5,1898.3 1546.5,1877.6 1548.3,1916.5 1550.5,1904 1552.8,1875.8 1554.4,1869.4 1555.9,1855.1 1557.5,1834.5 1560.5,1873.5 1562.5,1867.3 1564.6,1853.3 1566.4,1879.9 1568.2,1891.7 1570.4,1846 1572.2,1829.1 1574,1791.2 1575.6,1811.9 1577.1,1826.4 1578.7,1832.8 1580.9,1896.9 1583.1,1887.9 1585.3,1867.6 1588.6,1876.9 1590.3,1870.7 1591.9,1856.7 1593.6,1836.7 1596.9,1841.5 1599,1831 1601,1807.5 1604,1861.6 1606.1,1854.6 1608.2,1839 1610,1862.6 1611.7,1879.1 1613.5,1886.4 1615.4,1880.6 1617.3,1867.7 1619.2,1849.1 1621.3,1913.7 1623.4,1916.5 1626.6,1932.5 1628.8,1851.2 1630.4,1861.3 1631.9,1868.4 1633.5,1871.5 1635.5,1915.9 1637.4,1935.6 1639.2,1909.6 1641.1,1851.2 1642.9,1894.5 1645.2,1889.4 1647.4,1877.8 1648.2,1913.7 1650.1,1897.5 1651.9,1861.2 1653.8,1847.7 1655.8,1817.4 1657.7,1844.7 1659.7,1863.7 1661.6,1872.2 1664,1850.8 1666.1,1870.6 1668.2,1884.4 1670.3,1890.5 1673.7,1832.7 1676.7,1863.7 1679.5,1833.3 1681.5,1847.3 1683.4,1853.5 1686,1831 1689.4,1814.6 1691.2,1813.3 1693,1810.5 1696,1768.3 1697.7,1806.8 1699.5,1833.7 1701.2,1845.6 1704.1,1831.8 1705.3,1878.8 1707,1868.8 1708.8,1846.4 1710.5,1814.2 1712.3,1853.5 1715.7,1825.8 1717.8,1859.5 1719.6,1827.8 1721.4,1756.6 1723.5,1838.4 1725.8,1828.7 1728,1806.8 1729.5,1797 1731.1,1774.9 1732.6,1743.3 1734.3,1847.4 1736.3,1811.6 1738,1875.8 1740.2,1863.9 1742.5,1837 1744,1834.7 1745.6,1829.7 1747.1,1822.4 1749.2,1880.6 1752.4,1863.5 1754,1874 1756.4,1802.5 1758.2,1865.4 1760.1,1893.3 1762.5,1788.7 1764.1,1774.3 1765.7,1741.8 1767.3,1695.3 1769.4,1767.4 1771.5,1799.5 1773.2,1793.2 1774.9,1779 1776.6,1758.6 1780,1849.1 1783.4,1886.4 1786.6,1849.1 1789,1842.4 1790.9,1847.4 1793,1825.4 1794.9,1836.4 1796.8,1844 1798.7,1847.4 1802,1792.5 1804.8,1859.1 1808,1842.7 1809,1859.5 1810.8,1851 1812.6,1831.9 1814.4,1804.5 1816,1827.9 1817.6,1844.2 1819.2,1851.5 1820.8,1868.1 1822.5,1881.3 1824.1,1890.4 1825.7,1894.5 1827.6,1884 1829.5,1860.5 1831,1897.4 1833.2,1891.9 1835.5,1879.4 1836.3,1914.2 1838.4,1904.4 1840.5,1882.4 1842.6,1892.2 1844.2,1886.6 1845.9,1873.9 1847.5,1855.8 1849.5,1887.3 1851.5,1901.3 1853.3,1897.3 1855.2,1888.4 1857.3,1898.2 1859.4,1859.3 1862.2,1840.4 1864.1,1880.6 1866,1834.5 1868,1862.5 1869.9,1875 1871.8,1895.3 1873.6,1904.3 1875.7,1843.5 1877.8,1826.4 1879.3,1833 1881.4,1818.5 1883.2,1827.8 1884.9,1834.3 1886.7,1837.2 1887.2,1870.1 1889.9,1840.1 1891.4,1872.2 1894.1,1851.9 1895.8,1860.1 1897.7,1856.3 1899.6,1869.4 1901.6,1878.6 1903.5,1882.7 1905.3,1876.3 1907.7,1889.5 1909.6,1856.3 1911.4,1781.5 1914.5,1859.6 1916.8,1778.6 1918.3,1815.8 1919.9,1841.8 1921.4,1853.3 1923,1849.6 1924.5,1841.3 1926.1,1829.3 1929.5,1820.8 1931.2,1833.1 1933,1841.6 1934.7,1845.4 1936.7,1840.6 1938.8,1829.7 1940.8,1814.1 1943.9,1789.9 1945.5,1793.4 1947.6,1777.3 1949,1786.1 1951.3,1777.6 1953.4,1815.5 1955.2,1804.9 1957.1,1781.2 1960.2,1799.2 1962.3,1780.7 1964.4,1852.3 1966.2,1838.8 1967.9,1808.5 1970.2,1821.3 1973.6,1807.5 1976.5,1865.4 1978.5,1861.2 1980.5,1851.6 1982.3,1871.5 1983.9,1867.2 1985.4,1857.5 1987,1843.7 1989.1,1844.6"/>
<line x1="235" y1="1734.5" x2="1989" y2="1734.5" stroke="#ff0000" stroke-width="5"/>
<text class="tk" text-anchor="middle" x="236" y="2032.5">0</text>
<text class="tk" text-anchor="middle" x="601.1" y="2032.5">200</text>
<text class="tk" text-anchor="middle" x="966.2" y="2032.5">400</text>
<text class="tk" text-anchor="middle" x="1331.3" y="2032.5">600</text>
<text class="tk" text-anchor="middle" x="1696.4" y="2032.5">800</text>
<text class="tk" text-anchor="middle" x="2061.5" y="2032.5">1000</text>
<text class="tk" text-anchor="end" x="224" y="1986.5">0</text>
<text class="tk" text-anchor="end" x="224" y="1777.1">50</text>
<text class="lb" text-anchor="middle" x="1146.2" y="2056">Samples</text>
<text class="lb" text-anchor="middle" transform="translate(134 1796.5) rotate(-90)" x="0" y="0">SPE</text>
<line x1="380.4" y1="1681.6" x2="589.6" y2="1681.6" stroke="#0000ff" stroke-width="4.5"/>
<line x1="757.1" y1="1681.6" x2="965.7" y2="1681.6" stroke="#ff0000" stroke-width="4.5"/>
<text class="lg" x="605.8" y="1702.4">SPE</text>
<text class="lg" x="984.2" y="1702.4">SPE control limit</text>
</g>
<g font-size="84">
<text class="cap" x="1060" y="1066">(</text><text class="cap" x="1087" y="1066" font-weight="bold">a</text><text class="cap" x="1127" y="1066">)</text>
<text class="cap" x="1056" y="2158">(</text><text class="cap" x="1082" y="2158" font-weight="bold">b</text><text class="cap" x="1132" y="2158">)</text>
</g>
</svg>
</body>
</html>
